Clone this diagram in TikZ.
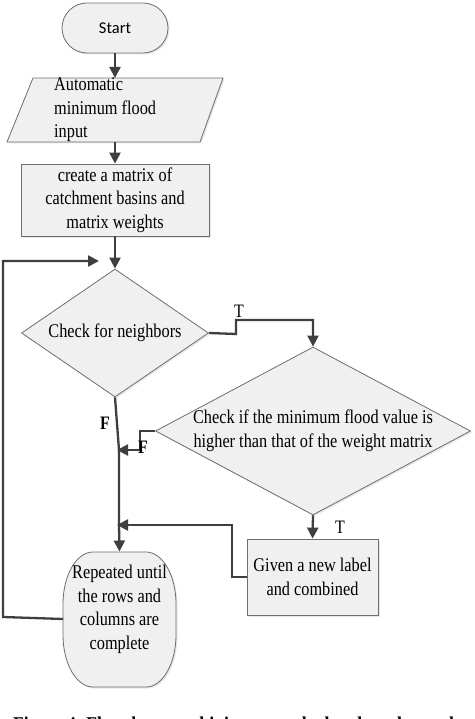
\documentclass[tikz,border=0pt]{standalone}
\usepackage{fontspec}
\setmainfont{Liberation Serif}[FakeStretch=0.84]
\newfontfamily\startfont{Carlito}
\usetikzlibrary{shapes.geometric,shapes.misc,arrows.meta,shadows}
\definecolor{linec}{HTML}{3F3F3F}
\definecolor{borderc}{HTML}{6E6E6E}
\definecolor{fillc}{HTML}{F0F0F0}
\tikzset{
  shapebox/.style={draw=borderc, line width=0.8pt, fill=fillc,
    drop shadow={opacity=0.18, shadow xshift=1.5pt, shadow yshift=-1.5pt}},
  conn/.style={draw=linec, line width=2.3pt, -{Triangle[length=11pt,width=11pt]}},
  plainconn/.style={draw=linec, line width=2.3pt},
  txt/.style={font=\fontsize{19.4}{23.5}\selectfont, align=center, inner sep=0pt},
  lbl/.style={font=\fontsize{19}{21}\selectfont, inner sep=0pt},
  ghost/.style={inner sep=0pt, outer sep=0pt}
}
\begin{document}
\begin{tikzpicture}[x=1pt,y=-1pt]
\useasboundingbox (0,0) rectangle (474,719);
\clip (0,0) rectangle (474,719);
\fill[white] (0,0) rectangle (474,719);

% Start
\node[shapebox, rounded rectangle, minimum width=106pt, minimum height=50pt, inner sep=0pt,
  font=\startfont\fontsize{16.5}{19}\selectfont] (start) at (115,28) {Start};

% Input parallelogram
\node[ghost, minimum width=216pt, minimum height=64pt] (inp) at (115,110) {};
\draw[shapebox] (33,78) -- (223,78) -- (200,142) -- (7,142) -- cycle;
\node[txt, align=left, anchor=west] (inptxt) at (54,110) {Automatic\\minimum flood\\input};

% Process box
\node[shapebox, rectangle, minimum width=188pt, minimum height=72pt, inner sep=0pt] (box) at (115,200) {};
\node[txt] (boxtxt) at (box.center) {create a matrix of\\catchment basins and\\matrix weights};

% Diamond 1
\node[shapebox, diamond, minimum width=187pt, minimum height=128pt, inner sep=0pt] (d1) at (115,333) {};
\node[txt] (d1txt) at (d1.center) {Check for neighbors};

% Diamond 2
\node[shapebox, diamond, minimum width=315pt, minimum height=168pt, inner sep=0pt] (d2) at (313,431) {};
\node[txt] (d2txt) at (d2.center) {Check if the minimum flood value is\\higher than that of the weight matrix};

% Given box
\node[shapebox, rectangle, minimum width=131pt, minimum height=76pt, inner sep=0pt] (giv) at (312.5,577) {};
\node[txt] (givtxt) at (giv.center) {Given a new label\\and combined};

% Repeated node (rounded barrel)
\node[ghost, minimum width=113pt, minimum height=135pt] (rep) at (119.5,619) {};
\draw[shapebox]
  (93,552) -- (146,552)
  .. controls (162.6,552) and (176,575.4) .. (176,604)
  -- (176,635)
  .. controls (176,663.6) and (162.6,687) .. (146,687)
  -- (93,687)
  .. controls (76.4,687) and (63,663.6) .. (63,635)
  -- (63,604)
  .. controls (63,575.4) and (76.4,552) .. (93,552) -- cycle;
\node[txt] (reptxt) at (119.5,609.5) {Repeated until\\the rows and\\columns are\\complete};

% Junction coordinates
\coordinate (j1) at (117,450);
\coordinate (j2) at (117,525);
\coordinate (loopend) at (99,261);

% Connectors
\draw[conn] (start.south) -- (inp.north);
\draw[conn] (inp.south) -- (box.north);
\draw[conn] (box.south) -- (d1.north);
\draw[conn] (d1.east) -- (236,334) -- (236,320) -- (313,320) -- (d2.north);
\draw[conn] (d2.west) -- (140,431) -- (140,450) -- (j1);
\draw[plainconn] (d1.south) -- (119,450) -- (119,525);
\draw[conn] (119,525) -- (rep.north);
\draw[conn] (d2.south) -- (giv.north);
\draw[conn] (giv.west) -- (232,577) -- (232,525) -- (j2);
\draw[conn] (rep.west) -- (3,617) -- (3,261) -- (loopend);

% Labels
\node[lbl] (tlab1) at (239,311) {T};
\node[lbl] (tlab2) at (340,527) {T};
\node[lbl, font=\bfseries\fontsize{19}{21}\selectfont] (flab1) at (105,423) {F};
\node[lbl, font=\bfseries\fontsize{19}{21}\selectfont] (flab2) at (143,447) {F};

% Caption (cut off at the bottom edge, as in the reference)
\node[anchor=base west, inner sep=0pt, font=\bfseries\fontsize{21}{24}\selectfont] (cap) at (13,731.5)
  {Figure 4. Flowchart combining watershed and catchment basins};
\end{tikzpicture}
\end{document}
